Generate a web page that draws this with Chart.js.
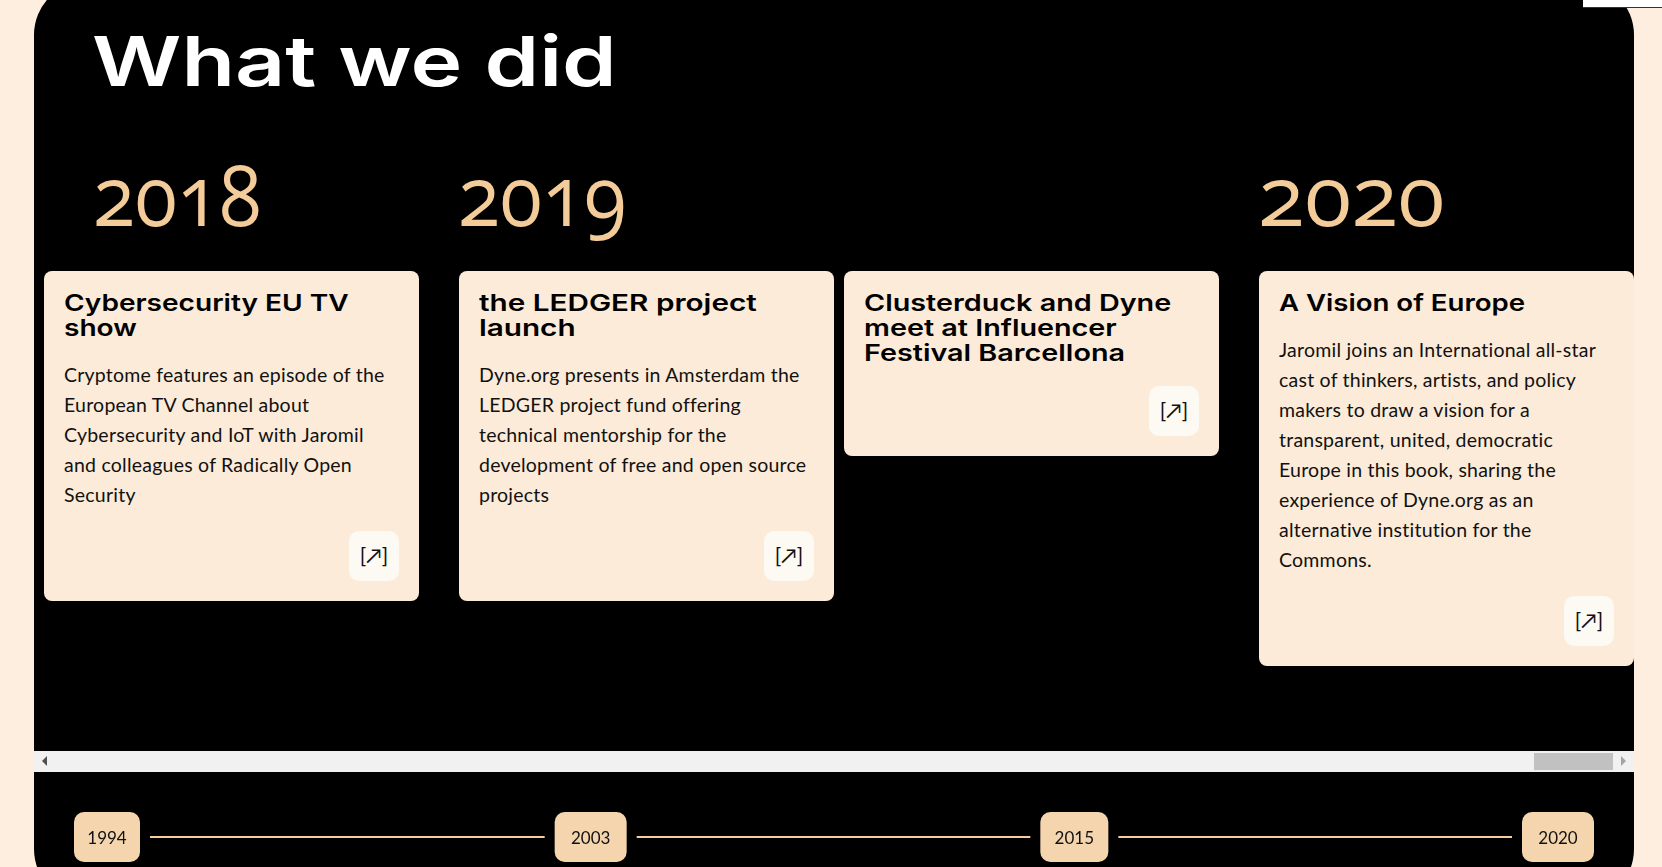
<!DOCTYPE html>
<html lang="en">
<head>
<meta charset="utf-8">
<title>What we did</title>
<script src="https://cdn.jsdelivr.net/npm/chart.js@4"></script>
<style>
html, body { margin: 0; padding: 0; width: 1662px; height: 867px; overflow: hidden; background: #feeedf; }
#panel { position: absolute; left: 34px; top: -19px; width: 1600px; height: 922px; background: #000; border-radius: 54px; }
#corner { position: absolute; left: 1583px; top: 0; width: 79px; height: 7px; background: #fff; border-bottom: 1px solid #333; }
h1 { position: absolute; margin: 0; left: 92px; top: 17px; font: 600 69px/88px Inter, sans-serif; color: #fff; white-space: nowrap; transform: scaleX(1.27); transform-origin: left; }
.year { position: absolute; top: 144px; font: 400 84px/100px "Open Sans", sans-serif; color: #f3cc99; font-feature-settings: "onum"; white-space: nowrap; transform-origin: left; }
.card { position: absolute; top: 271px; width: 375px; background: #fcebd8; border-radius: 8px; overflow: hidden; }
.card h3 { margin: 20px 0 0 20px; font: 600 23px/25px Inter, sans-serif; color: #000; white-space: pre; transform-origin: left; }
.card p { margin: 19px 0 0 20px; font: 400 19.5px/30px Lato, sans-serif; letter-spacing: .23px; color: #111; white-space: pre; }
.link { position: absolute; right: 20px; bottom: 20px; width: 50px; height: 50px; border-radius: 10px; background: #fdf9f3; font: 400 21px/48px Lato, "DejaVu Sans", sans-serif; color: #111; text-align: center; }
#bar { position: absolute; left: 34px; top: 751px; width: 1600px; height: 21px; background: #f1f1f1; }
#thumb { position: absolute; left: 1500px; top: 2px; width: 79px; height: 17px; background: #c1c1c1; }
#arrowL { position: absolute; left: 8px; top: 5px; border: 5px solid transparent; border-left: 0; border-right: 5px solid #505050; }
#arrowR { position: absolute; left: 1587px; top: 5px; border: 5px solid transparent; border-right: 0; border-left: 5px solid #a3a3a3; }
#timelineWrap { position: absolute; left: 0; top: 777px; width: 1662px; height: 120px; }
</style>
</head>
<body>
<div id="panel"></div>
<div id="corner"></div>
<h1>What we did</h1>
<div id="years"></div>
<div id="cards"></div>
<div id="bar"><div id="arrowL"></div><div id="thumb"></div><div id="arrowR"></div></div>
<div id="timelineWrap"><canvas id="timelineChart" width="1662" height="120"></canvas></div>
<script>
const headingYears = ['2018', '2019', '2020'];
const timelineYears = ['1994', '2003', '2015', '2020'];
const timelineValues = [0, 0, 0, 0];
const cardTitles = [
    'Cybersecurity EU TV\nshow',
    'the LEDGER project\nlaunch',
    'Clusterduck and Dyne\nmeet at Influencer\nFestival Barcellona',
    'A Vision of Europe'
];
const cardBodies = [
    'Cryptome features an episode of the\nEuropean TV Channel about\nCybersecurity and IoT with Jaromil\nand colleagues of Radically Open\nSecurity',
    'Dyne.org presents in Amsterdam the\nLEDGER project fund offering\ntechnical mentorship for the\ndevelopment of free and open source\nprojects',
    '',
    'Jaromil joins an International all-star\ncast of thinkers, artists, and policy\nmakers to draw a vision for a\ntransparent, united, democratic\nEurope in this book, sharing the\nexperience of Dyne.org as an\nalternative institution for the\nCommons.'
];

// layout only
const yearLeft = [93, 458, 1258];
const yearStretch = [.92, .92, 1.02];
const cardLeft = [44, 459, 844, 1259];
const cardHeight = [330, 330, 185, 395];
const titleStretch = [1.22, 1.29, 1.25, 1.2];
const pillWidth = [66, 72, 68, 72];

headingYears.forEach((y, i) => {
    const el = document.createElement('div');
    el.className = 'year';
    el.style.left = yearLeft[i] + 'px';
    el.style.transform = `scaleX(${yearStretch[i]})`;
    el.textContent = y;
    document.getElementById('years').appendChild(el);
});

cardTitles.forEach((t, i) => {
    const card = document.createElement('div');
    card.className = 'card';
    card.style.left = cardLeft[i] + 'px';
    card.style.height = cardHeight[i] + 'px';
    const h = document.createElement('h3');
    h.style.transform = `scaleX(${titleStretch[i]})`;
    h.textContent = t;
    card.appendChild(h);
    if (cardBodies[i]) {
        const p = document.createElement('p');
        p.textContent = cardBodies[i];
        card.appendChild(p);
    }
    const link = document.createElement('div');
    link.className = 'link';
    link.textContent = '[↗]';
    card.appendChild(link);
    document.getElementById('cards').appendChild(card);
});

// rounded year boxes behind the axis labels, with a black gap cutting the line
const pillPlugin = {
    id: 'pills',
    afterDatasetsDraw(chart) {
        const ctx = chart.ctx;
        const xs = chart.scales.x;
        const cy = chart.scales.y.getPixelForValue(0);
        timelineYears.forEach((y, i) => {
            const cx = xs.getPixelForValue(i);
            const w = pillWidth[i];
            ctx.save();
            ctx.fillStyle = '#000';
            ctx.fillRect(cx - w / 2 - 10, cy - 25, w + 20, 50);
            ctx.fillStyle = '#f5d5ad';
            ctx.beginPath();
            ctx.roundRect(cx - w / 2, cy - 25, w, 50, 10);
            ctx.fill();
            ctx.restore();
        });
    }
};

new Chart(document.getElementById('timelineChart'), {
    type: 'line',
    data: {
        labels: timelineYears,
        datasets: [{
            data: timelineValues,
            borderColor: '#f5ce9c',
            borderWidth: 2,
            pointRadius: 0,
            tension: 0
        }]
    },
    options: {
        responsive: false,
        animation: false,
        devicePixelRatio: 1,
        layout: { padding: { left: 107, right: 104, top: 0, bottom: 0 } },
        plugins: { legend: { display: false }, tooltip: { enabled: false } },
        scales: {
            x: {
                position: { y: 0 },
                offset: false,
                grid: { display: false, drawTicks: false },
                border: { display: false },
                ticks: {
                    z: 1,
                    padding: -9,
                    maxRotation: 0,
                    autoSkip: false,
                    color: '#111',
                    font: { family: 'Lato', size: 17 }
                }
            },
            y: { display: false, min: -1, max: 1 }
        }
    },
    plugins: [pillPlugin]
});
</script>
</body>
</html>
